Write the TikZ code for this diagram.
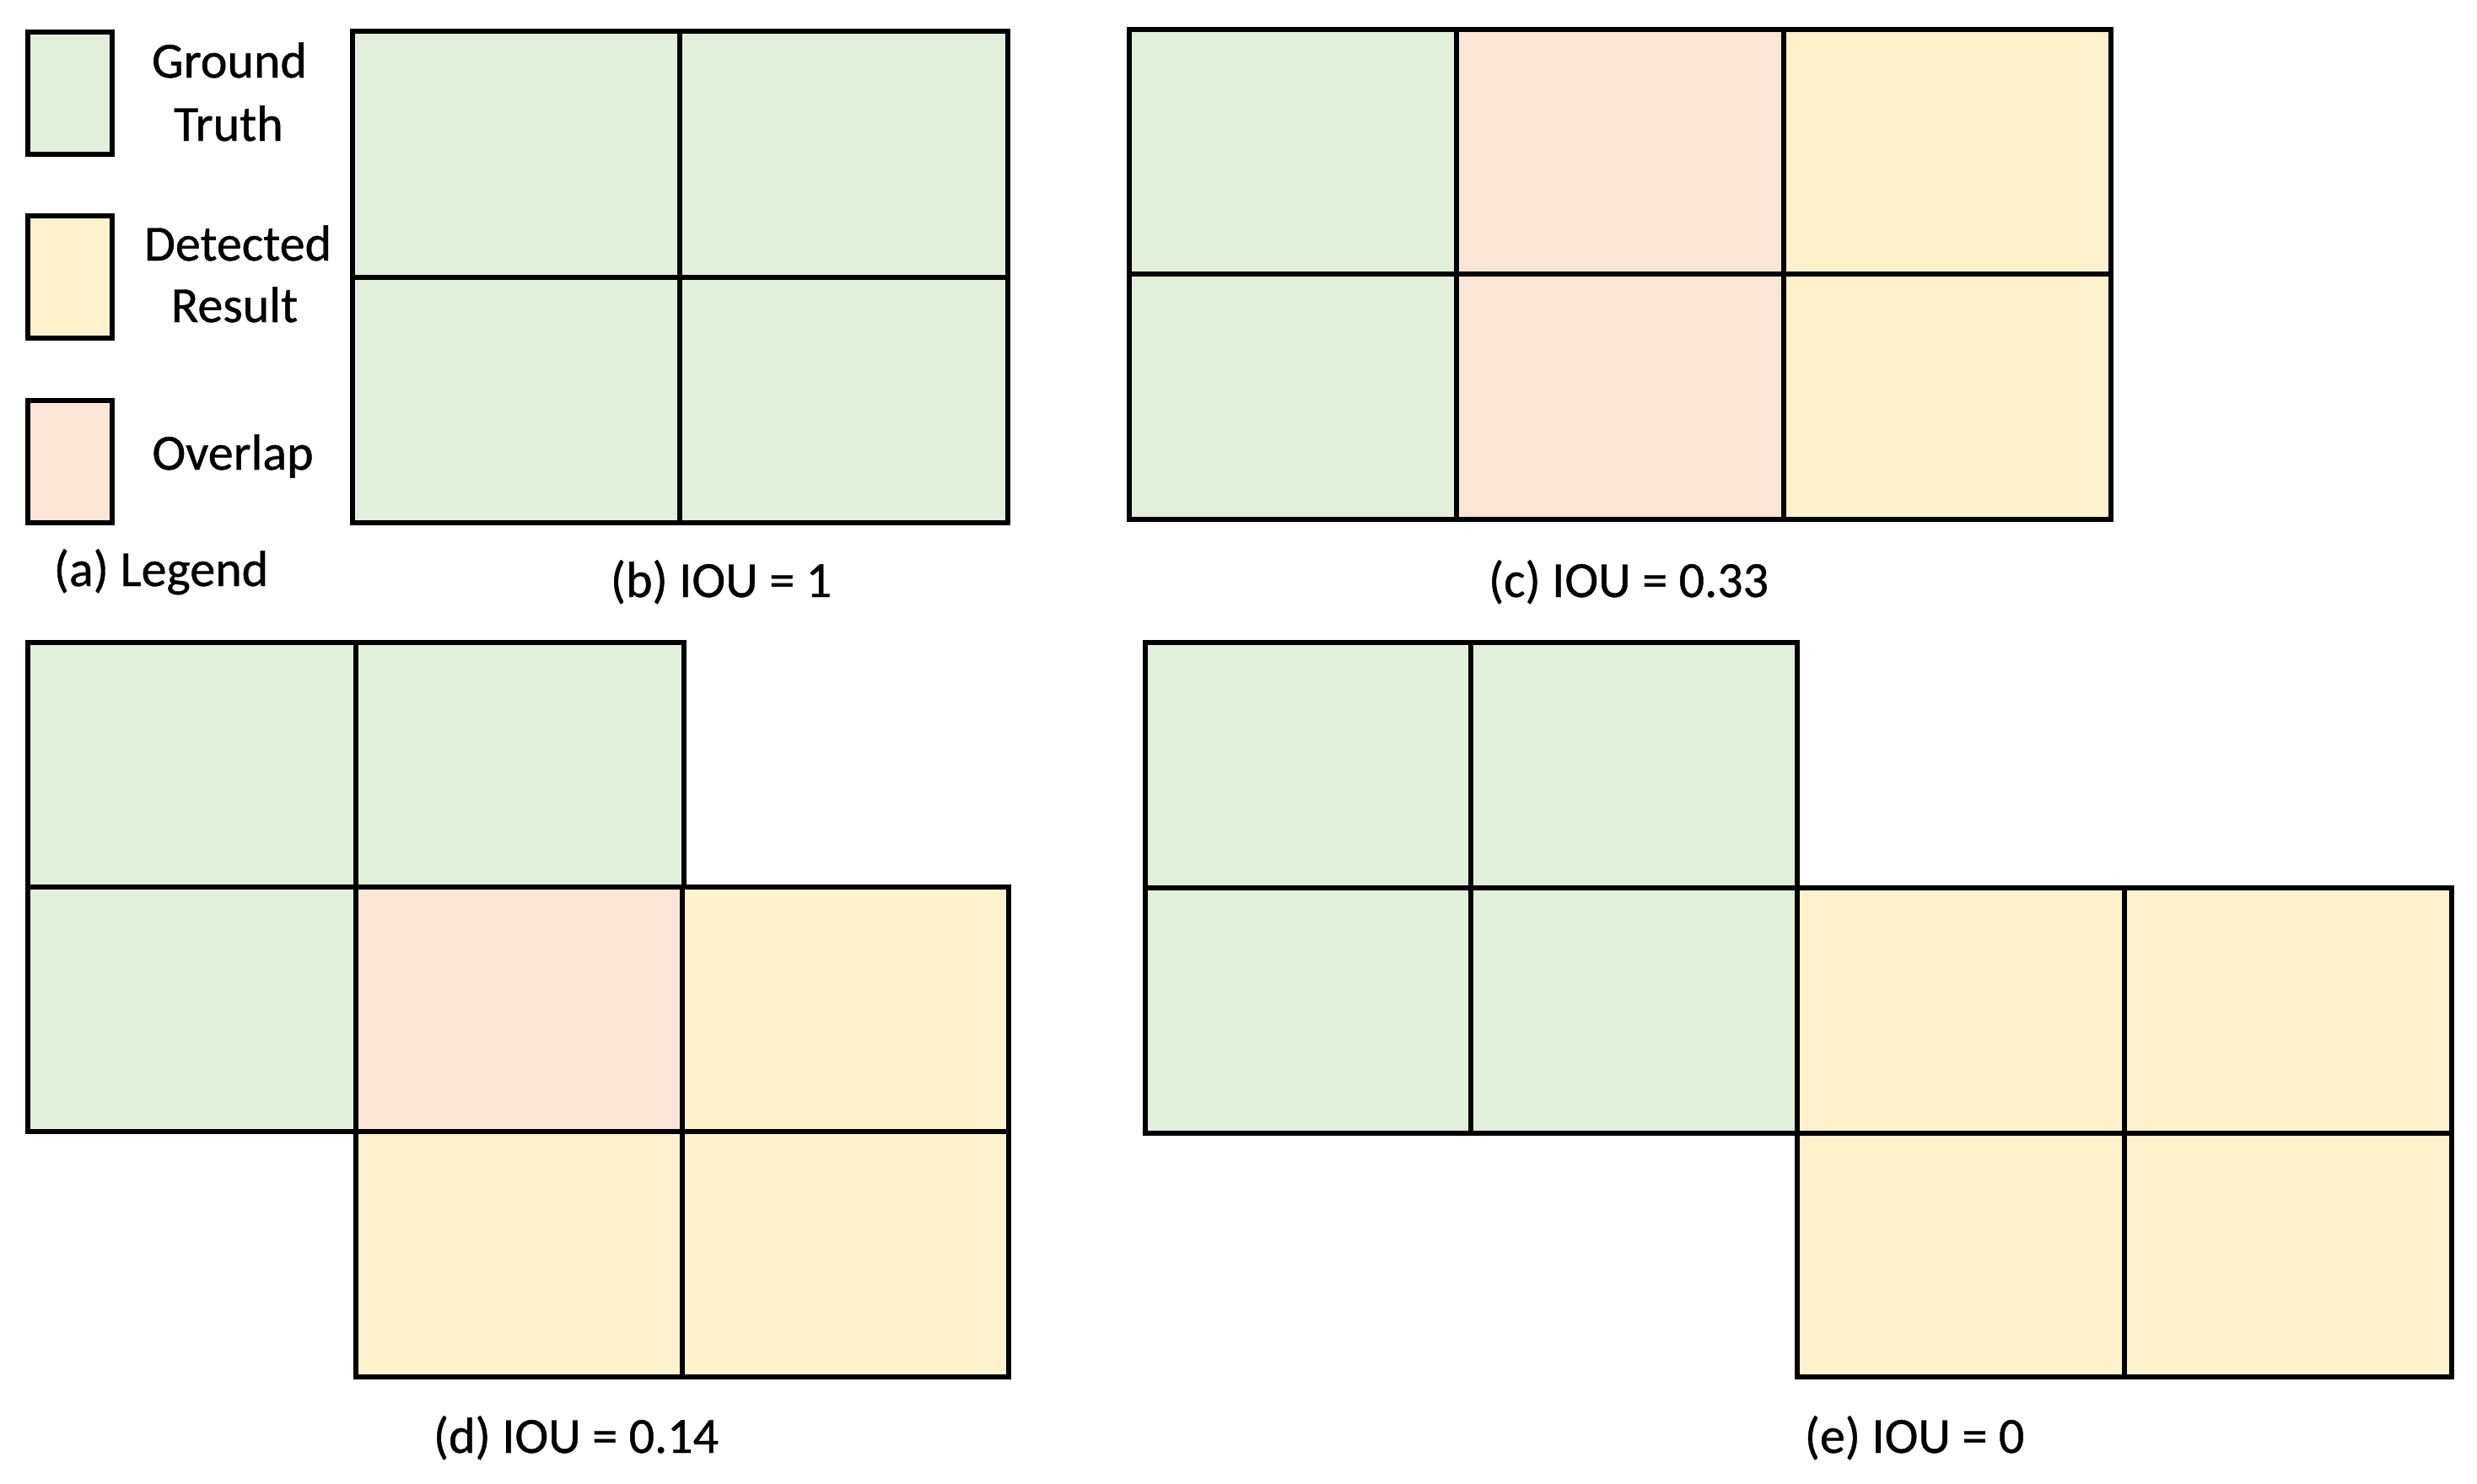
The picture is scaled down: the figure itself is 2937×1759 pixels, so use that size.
\documentclass[tikz,border=0pt]{standalone}
\usepackage{fontspec}
\setmainfont{Carlito}[FakeBold=0.7]
\newfontfamily\capfont{Carlito}[FakeBold=0.7]
\usetikzlibrary{fit,backgrounds}
\definecolor{gtc}{RGB}{226,239,218}
\definecolor{drc}{RGB}{255,242,204}
\definecolor{ovc}{RGB}{251,229,214}
\definecolor{shc}{RGB}{189,205,233}
\begin{document}
\begin{tikzpicture}[x=1pt,y=-1pt,
  cellbox/.style={rectangle, draw=black, line width=5.2pt, inner sep=0pt, outer sep=0pt},
  lbl/.style={font=\capfont\fontsize{60}{72}\selectfont, inner sep=0pt, anchor=base, text=black}]
\useasboundingbox (0,0) rectangle (2937,1759);
\fill[white] (0,0) rectangle (2937,1759);
% Legend
\node[cellbox, fill=gtc, fit={(33,38) (133,183)}] (lg) {};
\node[cellbox, fill=drc, fit={(33,256) (133,401)}] (ld) {};
\node[cellbox, fill=ovc, fit={(33,475) (133,620)}] (lo) {};
\node[lbl] (tg1) at (272,92) {Ground};
\node[lbl] (tg2) at (271,167) {Truth};
\node[lbl] (td1) at (282,309) {Detected};
\node[lbl] (td2) at (278,382) {Result};
\node[lbl] (to1) at (276,557) {Overlap};
\node[lbl] (capa) at (191,695) {(a) Legend};
% (b)
\node[cellbox, fill=gtc, fit={(418,37) (806,329)}] (b11) {};
\node[cellbox, fill=gtc, fit={(806,37) (1195,329)}] (b12) {};
\node[cellbox, fill=gtc, fit={(418,329) (806,620)}] (b21) {};
\node[cellbox, fill=gtc, fit={(806,329) (1195,620)}] (b22) {};
\node[lbl] (capb) at (855,708) {(b) IOU = 1};
% (c)
\node[cellbox, fill=gtc, fit={(1339,35) (1727,325)}] (c11) {};
\node[cellbox, fill=ovc, fit={(1727,35) (2115,325)}] (c12) {};
\node[cellbox, fill=drc, fit={(2115,35) (2503,325)}] (c13) {};
\node[cellbox, fill=gtc, fit={(1339,325) (1727,616)}] (c21) {};
\node[cellbox, fill=ovc, fit={(1727,325) (2115,616)}] (c22) {};
\node[cellbox, fill=drc, fit={(2115,325) (2503,616)}] (c23) {};
\node[lbl] (capc) at (1931,708) {(c) IOU = 0.33};
% (d)
\node[cellbox, fill=gtc, fit={(33,762) (422,1052)}] (d11) {};
\node[cellbox, fill=gtc, fit={(422,762) (811,1052)}] (d12) {};
\node[cellbox, fill=gtc, fit={(33,1052) (422,1342)}] (d21) {};
\node[cellbox, fill=ovc, fit={(422,1052) (809,1342)}] (d22) {};
\node[cellbox, fill=drc, fit={(809,1052) (1196,1342)}] (d23) {};
\node[cellbox, fill=drc, fit={(422,1342) (809,1633)}] (d32) {};
\node[cellbox, fill=drc, fit={(809,1342) (1196,1633)}] (d33) {};
\node[lbl] (capd) at (683,1723) {(d) IOU = 0.14};
% (e)
\node[cellbox, fill=gtc, fit={(1358,762) (1744,1053)}] (e11) {};
\node[cellbox, fill=gtc, fit={(1744,762) (2131,1053)}] (e12) {};
\node[cellbox, fill=gtc, fit={(1358,1053) (1744,1344)}] (e21) {};
\node[cellbox, fill=gtc, fit={(1744,1053) (2131,1344)}] (e22) {};
\node[cellbox, fill=drc, fit={(2131,1053) (2519,1344)}] (e13) {};
\node[cellbox, fill=drc, fit={(2519,1053) (2907,1344)}] (e14) {};
\node[cellbox, fill=drc, fit={(2131,1344) (2519,1633)}] (e23) {};
\node[cellbox, fill=drc, fit={(2519,1344) (2907,1633)}] (e24) {};
\node[lbl] (cape) at (2270,1723) {(e) IOU = 0};
% soft shadows
\begin{scope}[on background layer]
\foreach \n in {lg,ld,lo,b11,b12,b21,b22,c11,c12,c13,c21,c22,c23,d11,d12,d21,d22,d23,d32,d33,e11,e12,e21,e22,e13,e14,e23,e24}{
  \fill[shc, opacity=.35] ([shift={(-7,2)}]\n.north west) rectangle ([shift={(3,10)}]\n.south east);
  \fill[shc, opacity=.6] ([shift={(-4,3)}]\n.north west) rectangle ([shift={(1,7)}]\n.south east);
}
\end{scope}
\end{tikzpicture}
\end{document}
